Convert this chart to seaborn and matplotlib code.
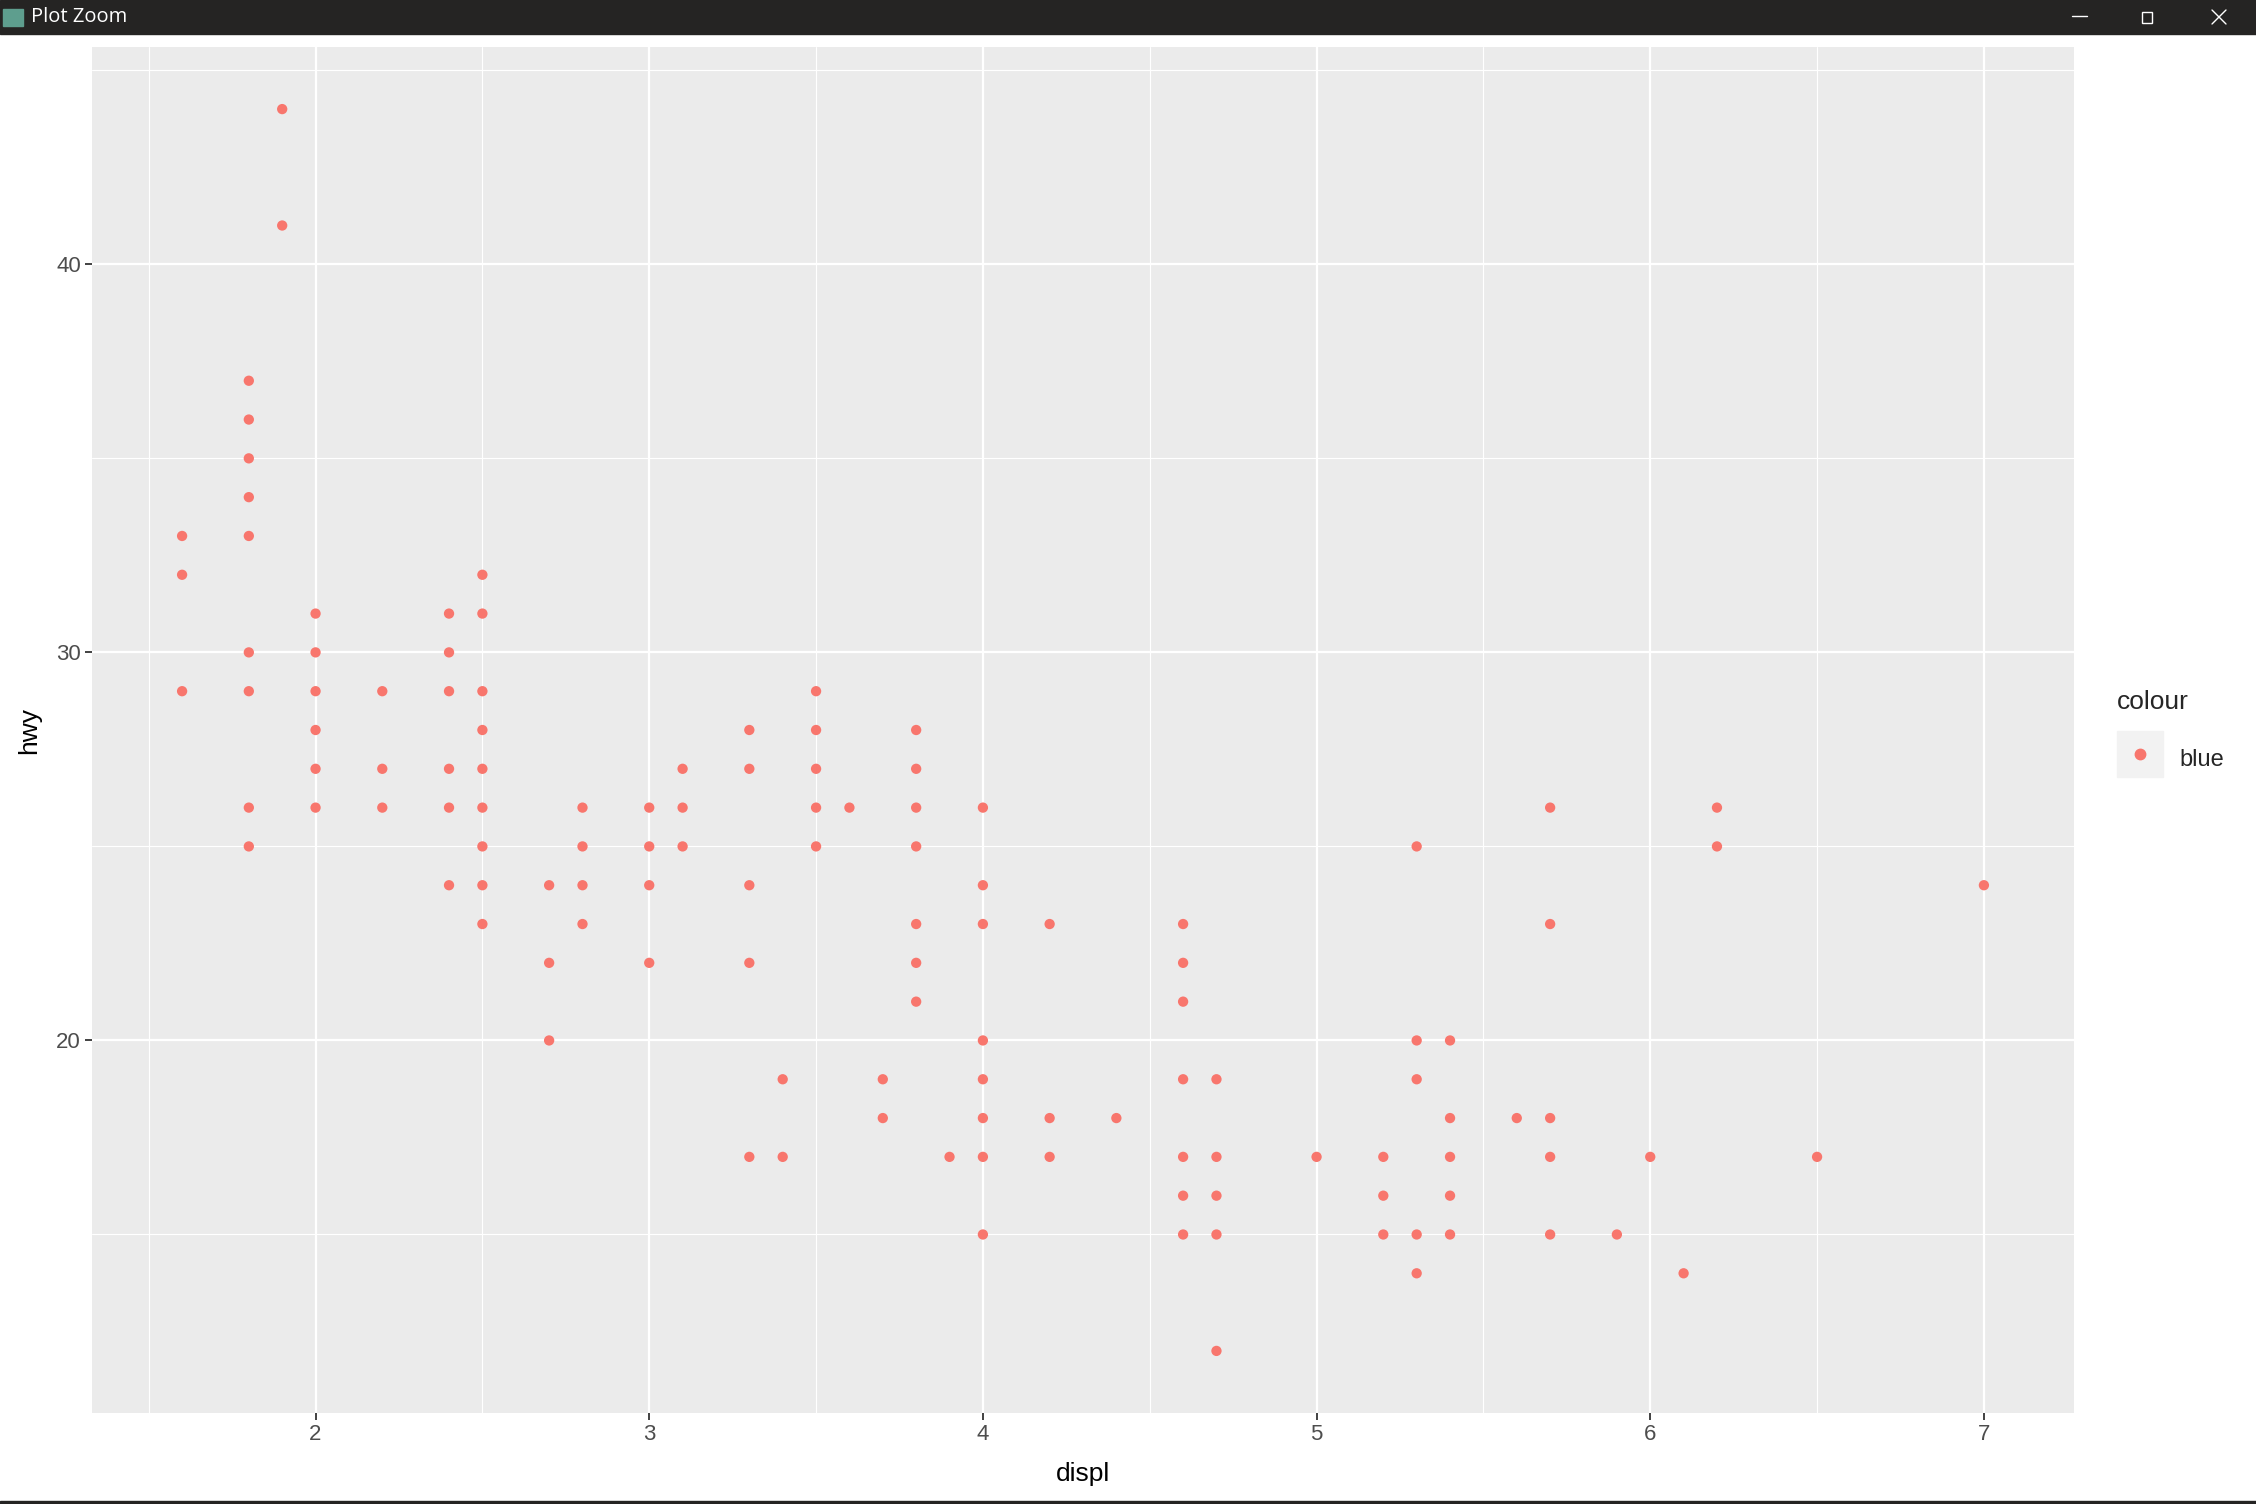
import numpy as np
import pandas as pd
import seaborn as sns
import matplotlib.pyplot as plt
from matplotlib.lines import Line2D
from matplotlib.patches import Rectangle
from matplotlib.legend_handler import HandlerTuple

# distinct (displ, hwy) pairs
displ = [1.6, 1.6, 1.6,
         1.8, 1.8, 1.8, 1.8, 1.8, 1.8, 1.8, 1.8, 1.8,
         1.9, 1.9,
         2.0, 2.0, 2.0, 2.0, 2.0, 2.0,
         2.2, 2.2, 2.2,
         2.4, 2.4, 2.4, 2.4, 2.4, 2.4,
         2.5, 2.5, 2.5, 2.5, 2.5, 2.5, 2.5, 2.5, 2.5,
         2.7, 2.7, 2.7,
         2.8, 2.8, 2.8, 2.8,
         3.0, 3.0, 3.0, 3.0,
         3.1, 3.1, 3.1,
         3.3, 3.3, 3.3, 3.3, 3.3,
         3.4, 3.4,
         3.5, 3.5, 3.5, 3.5, 3.5,
         3.6,
         3.7, 3.7,
         3.8, 3.8, 3.8, 3.8, 3.8, 3.8, 3.8,
         3.9,
         4.0, 4.0, 4.0, 4.0, 4.0, 4.0, 4.0, 4.0,
         4.2, 4.2, 4.2,
         4.4,
         4.6, 4.6, 4.6, 4.6, 4.6, 4.6, 4.6,
         4.7, 4.7, 4.7, 4.7, 4.7,
         5.0,
         5.2, 5.2, 5.2,
         5.3, 5.3, 5.3, 5.3, 5.3,
         5.4, 5.4, 5.4, 5.4, 5.4,
         5.6,
         5.7, 5.7, 5.7, 5.7, 5.7,
         5.9,
         6.0,
         6.1,
         6.2, 6.2,
         6.5,
         7.0]
hwy = [33, 32, 29,
       37, 36, 35, 34, 33, 30, 29, 26, 25,
       44, 41,
       31, 30, 29, 28, 27, 26,
       29, 27, 26,
       31, 30, 29, 27, 26, 24,
       32, 31, 29, 28, 27, 26, 25, 24, 23,
       24, 22, 20,
       26, 25, 24, 23,
       26, 25, 24, 22,
       27, 26, 25,
       28, 27, 24, 22, 17,
       19, 17,
       29, 28, 27, 26, 25,
       26,
       19, 18,
       28, 27, 26, 25, 23, 22, 21,
       17,
       26, 24, 23, 20, 19, 18, 17, 15,
       23, 18, 17,
       18,
       23, 22, 21, 19, 17, 16, 15,
       19, 17, 16, 15, 12,
       17,
       17, 16, 15,
       25, 20, 19, 15, 14,
       20, 18, 17, 16, 15,
       18,
       26, 23, 18, 17, 15,
       15,
       17,
       14,
       26, 25,
       17,
       24]

x_ticks = [2, 3, 4, 5, 6, 7]
y_ticks = [20, 30, 40]

df = pd.DataFrame({"displ": displ, "hwy": hwy, "colour": "blue"})

sns.set_theme(style="darkgrid")
plt.rcParams["font.family"] = ["Liberation Sans", "DejaVu Sans"]

fig = plt.figure(figsize=(22.56, 15.04), dpi=100)
ax = fig.add_axes([92 / 2256, 1 - 1413 / 1504, (2074 - 92) / 2256, (1413 - 47) / 1504])

sns.scatterplot(data=df, x="displ", y="hwy", hue="colour", palette=["#F8766D"],
                s=55, linewidth=0, ax=ax, legend=False)

ax.set_facecolor("#EBEBEB")
for sp in ax.spines.values():
    sp.set_visible(False)
ax.set_xlim(1.33, 7.27)
ax.set_ylim(10.4, 45.6)
ax.set_xticks(x_ticks)
ax.set_yticks(y_ticks)
ax.set_xticks(np.arange(1.5, 7.0, 1.0), minor=True)
ax.set_yticks([15, 25, 35, 45], minor=True)
ax.grid(which="major", color="white", linewidth=1.6)
ax.grid(which="minor", color="white", linewidth=0.8)
ax.set_axisbelow(True)
ax.tick_params(which="major", length=5, width=1.3, color="#333333",
               labelsize=16, labelcolor="#4D4D4D", pad=3,
               bottom=True, left=True)
ax.tick_params(which="minor", length=0)
ax.set_xlabel("displ", fontsize=19, color="black", labelpad=12)
ax.set_ylabel("hwy", fontsize=19, color="black", labelpad=11)

# legend with grey key background
bg = Line2D([], [], marker="s", markersize=33, color="#F2F2F2", linestyle="none")
dot = Line2D([], [], marker="o", markersize=7.5, color="#F8766D", linestyle="none")
leg = fig.legend([(bg, dot)], ["blue"], handler_map={tuple: HandlerTuple(ndivide=1, pad=0)},
                 title="colour", loc="upper left", bbox_to_anchor=(2103 / 2256, 1 - 676 / 1504),
                 frameon=False, fontsize=17, title_fontsize=19, handlelength=1.9,
                 handleheight=1.9, handletextpad=0.75, borderpad=0.6, labelspacing=1.15,
                 borderaxespad=0)
leg._legend_box.align = "left"

# window chrome
fig.patches.append(Rectangle((0, 1 - 34 / 1504), 1, 34 / 1504, transform=fig.transFigure,
                             color="#252423", zorder=0))
fig.patches.append(Rectangle((0, 0), 1, 3 / 1504, transform=fig.transFigure,
                             color="#252423", zorder=0))
fig.patches.append(Rectangle((3 / 2256, 1 - 26 / 1504), 20 / 2256, 17 / 1504,
                             transform=fig.transFigure, color="#5E9E8E", zorder=1))
fig.text(31 / 2256, 1 - 17 / 1504, "Plot Zoom", color="white", fontsize=14.5,
         va="center", ha="left", family=["Open Sans", "DejaVu Sans"])
yb = 1 - 16 / 1504
fig.add_artist(Line2D([2072 / 2256, 2087 / 2256], [yb, yb], transform=fig.transFigure,
                      color="white", linewidth=1))
fig.add_artist(Rectangle((2142 / 2256, 1 - 23 / 1504), 10 / 2256, 11 / 1504,
                         transform=fig.transFigure, fill=False, edgecolor="white", linewidth=1))
fig.add_artist(Line2D([2212 / 2256, 2226 / 2256], [1 - 10 / 1504, 1 - 24 / 1504],
                      transform=fig.transFigure, color="white", linewidth=1))
fig.add_artist(Line2D([2212 / 2256, 2226 / 2256], [1 - 24 / 1504, 1 - 10 / 1504],
                      transform=fig.transFigure, color="white", linewidth=1))

fig.savefig("out.png", dpi=100, facecolor="white")
